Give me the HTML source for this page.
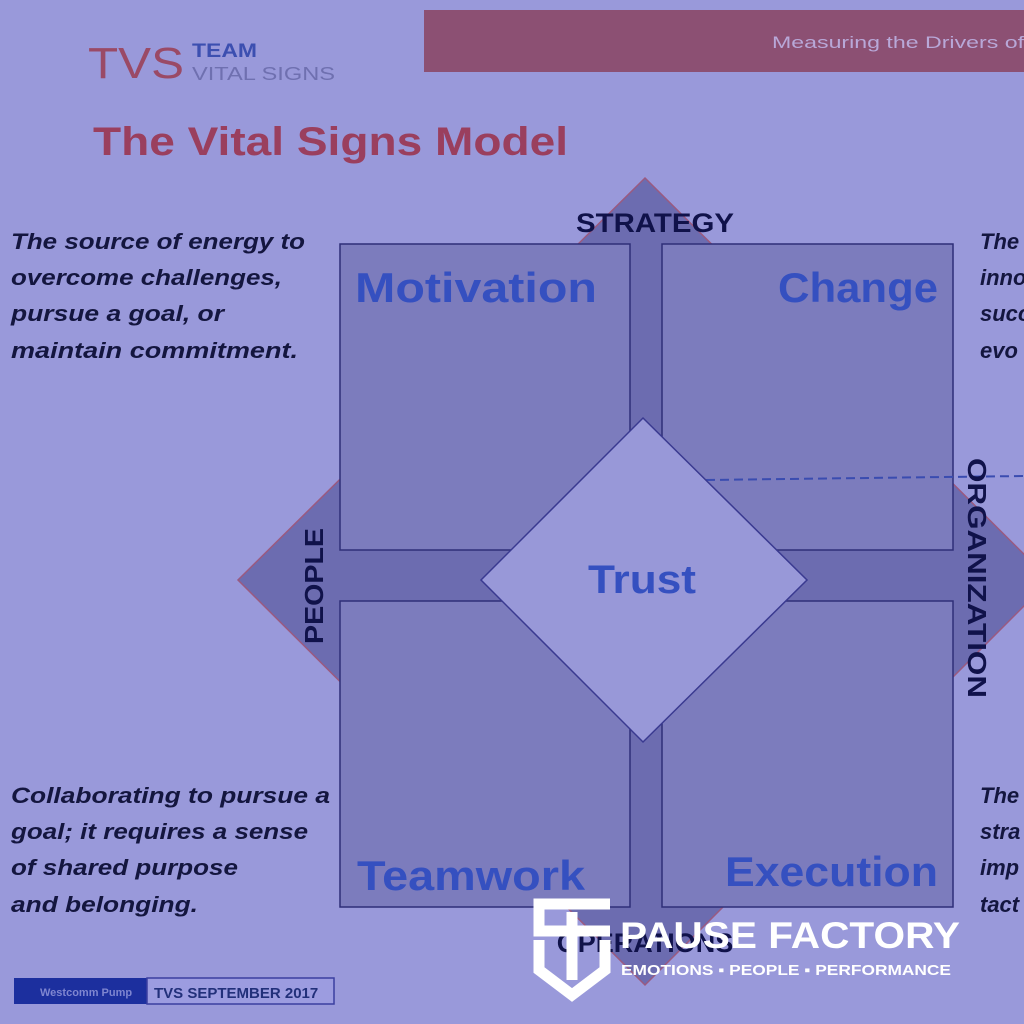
<!DOCTYPE html>
<html><head><meta charset="utf-8"><style>
body{margin:0;width:1024px;height:1024px;overflow:hidden;background:#9999da;font-family:"Liberation Sans",sans-serif}
</style></head><body>
<svg width="1024" height="1024" xmlns="http://www.w3.org/2000/svg" style="position:absolute;left:0;top:0">
<rect width="1024" height="1024" fill="#9999da"/>
<rect x="424" y="10" width="610" height="62" fill="#8c5073"/>
<text x="772" y="48" font-size="17" fill="#b8a8d8" textLength="252" lengthAdjust="spacingAndGlyphs">Measuring the Drivers of</text>
<text x="88" y="78" font-size="44" fill="#9a4a66" textLength="96" lengthAdjust="spacingAndGlyphs">TVS</text>
<text x="192" y="57" font-size="19" font-weight="bold" fill="#3c4fb0" textLength="65" lengthAdjust="spacingAndGlyphs">TEAM</text>
<text x="192" y="80" font-size="18" fill="#6f70b0" textLength="143" lengthAdjust="spacingAndGlyphs">VITAL  SIGNS</text>
<text x="93" y="155" font-size="40" font-weight="bold" fill="#9a3f5e" textLength="475" lengthAdjust="spacingAndGlyphs">The Vital Signs Model</text>
<polygon points="645,178 1050,580 645,985 238,580" fill="#6c6cb0" stroke="#9a5a80" stroke-width="1.5"/>
<g fill="#7c7cbd" stroke="#2e2e78" stroke-width="1.5">
<rect x="340" y="244" width="290" height="306"/>
<rect x="662" y="244" width="291" height="306"/>
<rect x="340" y="601" width="290" height="306"/>
<rect x="662" y="601" width="291" height="306"/>
</g>
<line x1="706" y1="480" x2="1024" y2="476" stroke="#3a4cb0" stroke-width="2" stroke-dasharray="9,5"/>
<polygon points="643,418 807,580 643,742 481,580" fill="#9898d8" stroke="#3a3a90" stroke-width="1.5"/>
<g font-weight="bold" fill="#3550c0" lengthAdjust="spacingAndGlyphs">
<text x="355" y="302" font-size="42" textLength="242" lengthAdjust="spacingAndGlyphs">Motivation</text>
<text x="778" y="302" font-size="42" textLength="160" lengthAdjust="spacingAndGlyphs">Change</text>
<text x="357" y="890" font-size="42" textLength="228" lengthAdjust="spacingAndGlyphs">Teamwork</text>
<text x="725" y="886" font-size="42" textLength="213" lengthAdjust="spacingAndGlyphs">Execution</text>
<text x="588" y="593" font-size="40" textLength="108" lengthAdjust="spacingAndGlyphs">Trust</text>
</g>
<g font-weight="bold" fill="#10124a" font-size="27">
<text x="655" y="232" text-anchor="middle" textLength="158" lengthAdjust="spacingAndGlyphs">STRATEGY</text>
<text transform="translate(323,586) rotate(-90)" text-anchor="middle" font-size="26" textLength="116" lengthAdjust="spacingAndGlyphs">PEOPLE</text>
<text transform="translate(968,578) rotate(90)" text-anchor="middle" font-size="26" textLength="240" lengthAdjust="spacingAndGlyphs">ORGANIZATION</text>
<text x="645" y="952" text-anchor="middle">OPERATIONS</text>
</g>
<g font-weight="bold" font-style="italic" fill="#14163f" font-size="22">
<text x="11" y="249" textLength="294" lengthAdjust="spacingAndGlyphs">The source of energy to</text>
<text x="11" y="285" textLength="271" lengthAdjust="spacingAndGlyphs">overcome challenges,</text>
<text x="11" y="321" textLength="213" lengthAdjust="spacingAndGlyphs">pursue a goal, or</text>
<text x="11" y="358" textLength="287" lengthAdjust="spacingAndGlyphs">maintain commitment.</text>
<text x="11" y="803" textLength="319" lengthAdjust="spacingAndGlyphs">Collaborating to pursue a</text>
<text x="11" y="839" textLength="297" lengthAdjust="spacingAndGlyphs">goal; it requires a sense</text>
<text x="11" y="875" textLength="227" lengthAdjust="spacingAndGlyphs">of shared purpose</text>
<text x="11" y="912" textLength="187" lengthAdjust="spacingAndGlyphs">and belonging.</text>
<text x="980" y="249">The</text>
<text x="980" y="285">inno</text>
<text x="980" y="321">succ</text>
<text x="980" y="358">evo</text>
<text x="980" y="803">The</text>
<text x="980" y="839">stra</text>
<text x="980" y="875">imp</text>
<text x="980" y="912">tact</text>
</g>
<rect x="14" y="978" width="133" height="26" fill="#1c2f9e"/>
<rect x="147" y="978" width="187" height="26" fill="#9c9ce0" stroke="#3b3fa0" stroke-width="1.5"/>
<text x="40" y="996" font-size="11" font-weight="bold" fill="#7f86d0">Westcomm Pump</text>
<text x="154" y="998" font-size="15" font-weight="bold" fill="#22307a">TVS SEPTEMBER 2017</text>
<g fill="none" stroke="#ffffff" stroke-width="11" stroke-linejoin="miter">
<path d="M610,904 H539 V931 H610"/>
<path d="M539,940 V970 L572,995 L605,970 V940"/>
<path d="M572,912 V980"/>
</g>
<text x="620" y="948" font-size="37" font-weight="bold" fill="#ffffff" textLength="340" lengthAdjust="spacingAndGlyphs">PAUSE FACTORY</text>
<text x="621" y="975" font-size="15" font-weight="bold" fill="#ffffff" textLength="330" lengthAdjust="spacingAndGlyphs">EMOTIONS ▪ PEOPLE ▪ PERFORMANCE</text>
</svg>
</body></html>
